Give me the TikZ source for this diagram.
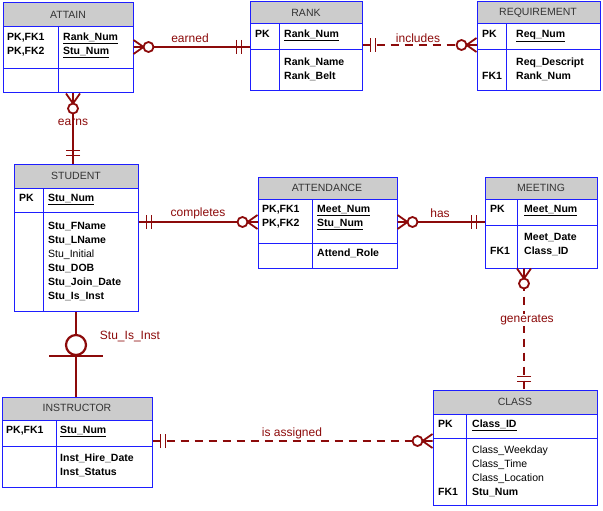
\documentclass[tikz,border=0pt]{standalone}
\usepackage{fontspec}
\setmainfont{Liberation Sans}
\usetikzlibrary{fit}
\definecolor{tblue}{RGB}{30,30,255}
\definecolor{rel}{RGB}{140,10,10}
\definecolor{hdr}{RGB}{204,204,204}
\newcommand\ertable[8]{%
  \fill[hdr] (#2,#3) rectangle (#4,#5);
  \node[name=#1, fit={(#2,#3)(#4,#7)}, inner sep=0pt, draw=tblue, line width=1pt] {};
  \draw[tblue, line width=1pt] (#2,#5) -- (#4,#5) (#2,#6) -- (#4,#6) (#8,#5) -- (#8,#7);
}
\newcommand\uline[1]{\underline{#1}}
\begin{document}
\begin{tikzpicture}[x=1pt,y=-1pt,
  hd/.style={font=\fontsize{10.5}{12}\selectfont, text=black!80},
  cell/.style={anchor=north west, align=left, inner sep=0pt, font=\fontsize{10.5}{14}\selectfont\bfseries},
  plain/.style={anchor=north west, align=left, inner sep=0pt, font=\fontsize{10.5}{14}\selectfont},
  rl/.style={rel, line width=2.2pt},
  rd/.style={rel, line width=2.2pt, dash pattern=on 8pt off 6pt},
  lab/.style={text=rel, font=\fontsize{12}{14}\selectfont},
  zm/.pic={\draw[rel, line width=1.8pt] (0,-7) -- (-10,0) -- (0,7) (0,0) -- (-10,0);
           \draw[rel, line width=1.8pt, fill=white] (-15,0) circle (5);},
  oo/.pic={\draw[rel, line width=1.8pt] (-8,-7) -- (-8,7) (-13,-7) -- (-13,7);}
]
\useasboundingbox (0,0) rectangle (603,511);
% tables
\ertable{attain}{3}{3}{133}{27}{69}{93}{58}
\ertable{rank}{250}{2}{362}{24}{50}{91}{279}
\ertable{req}{477}{2}{600}{24}{50}{91}{506}
\ertable{student}{14}{164}{138}{188}{212}{311}{43}
\ertable{attend}{258}{177}{397}{199}{243}{268}{312}
\ertable{meet}{485}{177}{597}{199}{225}{268}{517}
\ertable{instr}{2}{397}{152}{420}{446}{487}{56}
\ertable{class}{433}{390}{597}{414}{438}{505}{466}
% headers
\node[hd] (h1) at (68,15) {ATTAIN};
\node[hd] (h2) at (306,13) {RANK};
\node[hd] (h3) at (538,13) {REQUIREMENT};
\node[hd] (h4) at (76,176) {STUDENT};
\node[hd] (h5) at (327,188) {ATTENDANCE};
\node[hd] (h6) at (541,188) {MEETING};
\node[hd] (h7) at (77,408) {INSTRUCTOR};
\node[hd] (h8) at (515,402) {CLASS};
% cells
\node[cell] (a1) at (7,33) {PK,FK1\\PK,FK2};
\node[cell] (a2) at (63,33) {\uline{Rank\_Num}\\\uline{Stu\_Num}};
\node[cell] (r1) at (255,30) {PK};
\node[cell] (r2) at (284,30) {\uline{Rank\_Num}};
\node[cell] (r3) at (284,58) {Rank\_Name\\Rank\_Belt};
\node[cell] (q1) at (482,30) {PK};
\node[cell] (q2) at (516,30) {\uline{Req\_Num}};
\node[cell] (q3) at (482,72) {FK1};
\node[cell] (q4) at (516,58) {Req\_Descript\\Rank\_Num};
\node[cell] (s1) at (19,194) {PK};
\node[cell] (s2) at (48,194) {\uline{Stu\_Num}};
\node[cell] (s3) at (48,222) {Stu\_FName\\Stu\_LName};
\node[plain] (s4) at (48,250) {Stu\_Initial};
\node[cell] (s5) at (48,264) {Stu\_DOB\\Stu\_Join\_Date\\Stu\_Is\_Inst};
\node[cell] (t1) at (262,205) {PK,FK1\\PK,FK2};
\node[cell] (t2) at (317,205) {\uline{Meet\_Num}\\\uline{Stu\_Num}};
\node[cell] (t3) at (317,249) {Attend\_Role};
\node[cell] (m1) at (490,205) {PK};
\node[cell] (m2) at (524,205) {\uline{Meet\_Num}};
\node[cell] (m3) at (490,247) {FK1};
\node[cell] (m4) at (524,233) {Meet\_Date\\Class\_ID};
\node[cell] (i1) at (6,426) {PK,FK1};
\node[cell] (i2) at (60,426) {\uline{Stu\_Num}};
\node[cell] (i3) at (60,454) {Inst\_Hire\_Date\\Inst\_Status};
\node[cell] (c1) at (438,420) {PK};
\node[cell] (c2) at (472,420) {\uline{Class\_ID}};
\node[plain] (c3) at (472,446) {Class\_Weekday\\Class\_Time\\Class\_Location};
\node[cell] (c4) at (438,488) {FK1};
\node[cell] (c5) at (472,488) {Stu\_Num};
% relationships
\draw[rl] (attain.east|-{0,47}) -- (rank.west|-{0,47});
\pic[rotate=180] at (attain.east|-{0,47}) {zm};
\pic at (rank.west|-{0,47}) {oo};
\node[lab] (l1) at (190,38) {earned};
\draw[rd] (rank.east|-{0,45}) -- (req.west|-{0,45});
\pic[rotate=180] at (rank.east|-{0,45}) {oo};
\pic at (req.west|-{0,45}) {zm};
\node[lab] (l2) at (418,38) {includes};
\draw[rl] (attain.south-|{73,0}) -- (student.north-|{73,0});
\node[lab] (l3) at (73,122) {earns};
\pic[rotate=90] at (attain.south-|{73,0}) {zm};
\pic[rotate=-90] at (student.north-|{73,0}) {oo};
\draw[rl] (student.east|-{0,222}) -- (attend.west|-{0,222});
\pic[rotate=180] at (student.east|-{0,222}) {oo};
\pic at (attend.west|-{0,222}) {zm};
\node[lab] (l4) at (198,213) {completes};
\draw[rl] (attend.east|-{0,222}) -- (meet.west|-{0,222});
\pic[rotate=180] at (attend.east|-{0,222}) {zm};
\pic at (meet.west|-{0,222}) {oo};
\node[lab] (l5) at (440,213) {has};
\draw[rd] (meet.south-|{524,0}) -- (class.north-|{524,0});
\pic[rotate=90] at (meet.south-|{524,0}) {zm};
\pic[rotate=-90] at (class.north-|{524,0}) {oo};
\node[lab, fill=white, inner sep=1pt] (l6) at (527,320) {generates};
\draw[rd] (instr.east|-{0,441}) -- (class.west|-{0,441});
\pic[rotate=180] at (instr.east|-{0,441}) {oo};
\pic at (class.west|-{0,441}) {zm};
\node[lab] (l7) at (292,433) {is assigned};
\draw[rl] (student.south-|{76,0}) -- (instr.north-|{76,0});
\draw[rl, fill=white] (76,345) circle (10);
\draw[rl] (49,356) -- (103,356);
\node[lab] (l8) at (130,337) {Stu\_Is\_Inst};
\end{tikzpicture}
\end{document}
